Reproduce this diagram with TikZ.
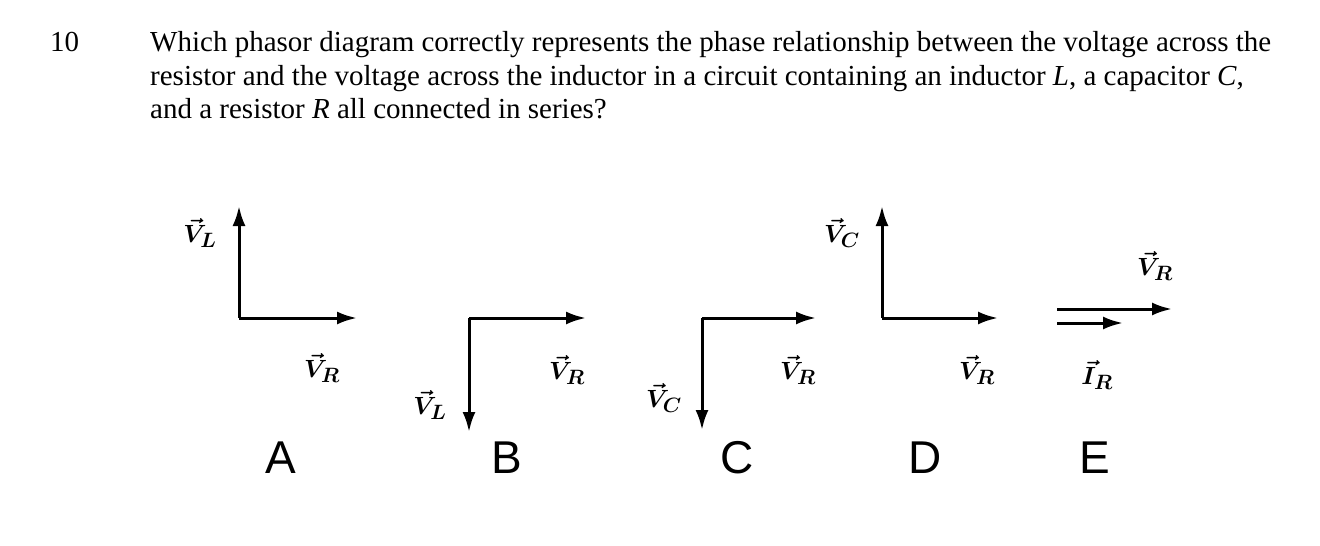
\documentclass[tikz,border=0pt]{standalone}
\usepackage{fontspec}
\setmainfont{Liberation Serif}
\newfontfamily\lettfont{Liberation Sans}
\usetikzlibrary{arrows.meta}
\begin{document}
\begin{tikzpicture}[x=1pt,y=-1pt,
  vec/.style={line width=3pt,-{Latex[length=20pt,width=13pt]}},
  lbl/.style={font=\fontsize{32}{34}\selectfont\boldmath,inner sep=0pt},
  let/.style={font=\lettfont\fontsize{46}{48}\selectfont},
  txt/.style={anchor=base west,font=\fontsize{29}{32}\selectfont,inner sep=0pt}]
\useasboundingbox (0,0) rectangle (1320,546);
\node[txt] (num) at (50,51) {10};
\node[txt] (l1) at (150,51) {Which phasor diagram correctly represents the phase relationship between the voltage across the};
\node[txt] (l2) at (150,85) {resistor and the voltage across the inductor in a circuit containing an inductor \textit{L}, a capacitor \textit{C},};
\node[txt] (l3) at (150,118) {and a resistor \textit{R} all connected in series?};
% A
\coordinate (oa) at (239,318);
\coordinate (ta) at (239,206); \coordinate (ra) at (357,318);
\draw[vec] (oa) -- (ta); \draw[vec] (oa) -- (ra);
\node[lbl] (vla) at (200,233) {$\vec V_L$};
\node[lbl] (vra) at (322,368) {$\vec V_R$};
\node[let] (A) at (281,458) {A};
% B
\coordinate (ob) at (469,318);
\coordinate (rb) at (586,318); \coordinate (db) at (469,432);
\draw[vec] (ob) -- (rb); \draw[vec] (ob) -- (db);
\node[lbl] (vrb) at (567,370) {$\vec V_R$};
\node[lbl] (vlb) at (430,405) {$\vec V_L$};
\node[let] (B) at (507,458) {B};
% C
\coordinate (oc) at (702,318);
\coordinate (rc) at (816,318); \coordinate (dc) at (702,430);
\draw[vec] (oc) -- (rc); \draw[vec] (oc) -- (dc);
\node[lbl] (vrc) at (798,370) {$\vec V_R$};
\node[lbl] (vcc) at (664,398) {$\vec V_C$};
\node[let] (C) at (737,458) {C};
% D
\coordinate (od) at (882,318);
\coordinate (td) at (882,206); \coordinate (rd) at (998,318);
\draw[vec] (od) -- (td); \draw[vec] (od) -- (rd);
\node[lbl] (vcd) at (842,233) {$\vec V_C$};
\node[lbl] (vrd) at (977,370) {$\vec V_R$};
\node[let] (D) at (925,458) {D};
% E
\coordinate (oe1) at (1057,309); \coordinate (te1) at (1172,309);
\coordinate (oe2) at (1057,323); \coordinate (te2) at (1123,323);
\draw[vec] (oe1) -- (te1); \draw[vec] (oe2) -- (te2);
\node[lbl] (vre) at (1155,266) {$\vec V_R$};
\node[lbl] (ire) at (1097,375) {$\vec I_R$};
\node[let] (E) at (1095,458) {E};
\end{tikzpicture}
\end{document}
